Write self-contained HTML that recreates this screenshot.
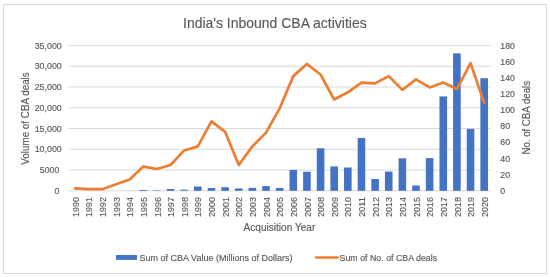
<!DOCTYPE html><html><head><meta charset="utf-8"><title>India's Inbound CBA activities</title>
<style>html,body{margin:0;padding:0;background:#fff;overflow:hidden}svg{display:block}text{font-family:"Liberation Sans", Arial, sans-serif;fill:#595959;stroke:#595959;stroke-width:0.15px}</style></head><body>
<svg width="550" height="277" viewBox="0 0 550 277">
<rect x="0" y="0" width="550" height="277" fill="#fff"/>
<rect x="3.5" y="4.5" width="543" height="269" fill="#fff" stroke="#d9d9d9" stroke-width="1"/>
<text x="274.85" y="27.6" font-size="14.2" text-anchor="middle" textLength="183.6" lengthAdjust="spacingAndGlyphs">India's Inbound CBA activities</text>
<line x1="68.30" x2="491.00" y1="45.45" y2="45.45" stroke="#d9d9d9" stroke-width="1"/>
<line x1="68.30" x2="491.00" y1="66.21" y2="66.21" stroke="#d9d9d9" stroke-width="1"/>
<line x1="68.30" x2="491.00" y1="86.98" y2="86.98" stroke="#d9d9d9" stroke-width="1"/>
<line x1="68.30" x2="491.00" y1="107.74" y2="107.74" stroke="#d9d9d9" stroke-width="1"/>
<line x1="68.30" x2="491.00" y1="128.51" y2="128.51" stroke="#d9d9d9" stroke-width="1"/>
<line x1="68.30" x2="491.00" y1="149.27" y2="149.27" stroke="#d9d9d9" stroke-width="1"/>
<line x1="68.30" x2="491.00" y1="170.04" y2="170.04" stroke="#d9d9d9" stroke-width="1"/>
<line x1="68.30" x2="491.00" y1="190.80" y2="190.80" stroke="#d9d9d9" stroke-width="1"/>
<text x="61.8" y="48.55" font-size="9.7" text-anchor="end" textLength="27.1" lengthAdjust="spacingAndGlyphs">35,000</text>
<text x="61.8" y="69.31" font-size="9.7" text-anchor="end" textLength="27.1" lengthAdjust="spacingAndGlyphs">30,000</text>
<text x="61.8" y="90.08" font-size="9.7" text-anchor="end" textLength="27.1" lengthAdjust="spacingAndGlyphs">25,000</text>
<text x="61.8" y="110.84" font-size="9.7" text-anchor="end" textLength="27.1" lengthAdjust="spacingAndGlyphs">20,000</text>
<text x="61.8" y="131.61" font-size="9.7" text-anchor="end" textLength="27.1" lengthAdjust="spacingAndGlyphs">15,000</text>
<text x="61.8" y="152.37" font-size="9.7" text-anchor="end" textLength="27.1" lengthAdjust="spacingAndGlyphs">10,000</text>
<text x="59.4" y="173.14" font-size="9.7" text-anchor="end" textLength="19.6" lengthAdjust="spacingAndGlyphs">5000</text>
<text x="59.4" y="193.90" font-size="9.7" text-anchor="end" textLength="4.9" lengthAdjust="spacingAndGlyphs">0</text>
<text x="500.3" y="48.55" font-size="9.7" textLength="14.7" lengthAdjust="spacingAndGlyphs">180</text>
<text x="500.3" y="64.70" font-size="9.7" textLength="14.7" lengthAdjust="spacingAndGlyphs">160</text>
<text x="500.3" y="80.85" font-size="9.7" textLength="14.7" lengthAdjust="spacingAndGlyphs">140</text>
<text x="500.3" y="97.00" font-size="9.7" textLength="14.7" lengthAdjust="spacingAndGlyphs">120</text>
<text x="500.3" y="113.15" font-size="9.7" textLength="14.7" lengthAdjust="spacingAndGlyphs">100</text>
<text x="500.3" y="129.30" font-size="9.7" textLength="9.8" lengthAdjust="spacingAndGlyphs">80</text>
<text x="500.3" y="145.45" font-size="9.7" textLength="9.8" lengthAdjust="spacingAndGlyphs">60</text>
<text x="500.3" y="161.60" font-size="9.7" textLength="9.8" lengthAdjust="spacingAndGlyphs">40</text>
<text x="500.3" y="177.75" font-size="9.7" textLength="9.8" lengthAdjust="spacingAndGlyphs">20</text>
<text x="500.3" y="193.90" font-size="9.7" textLength="4.9" lengthAdjust="spacingAndGlyphs">0</text>
<rect x="139.50" y="189.97" width="7.60" height="0.83" fill="#4472c4"/>
<rect x="153.13" y="190.38" width="7.60" height="0.42" fill="#4472c4"/>
<rect x="166.77" y="189.01" width="7.60" height="1.79" fill="#4472c4"/>
<rect x="180.40" y="189.72" width="7.60" height="1.08" fill="#4472c4"/>
<rect x="194.04" y="186.50" width="7.60" height="4.30" fill="#4472c4"/>
<rect x="207.67" y="188.00" width="7.60" height="2.80" fill="#4472c4"/>
<rect x="221.31" y="187.19" width="7.60" height="3.61" fill="#4472c4"/>
<rect x="234.94" y="188.39" width="7.60" height="2.41" fill="#4472c4"/>
<rect x="248.58" y="187.89" width="7.60" height="2.91" fill="#4472c4"/>
<rect x="262.21" y="186.11" width="7.60" height="4.69" fill="#4472c4"/>
<rect x="275.85" y="188.00" width="7.60" height="2.80" fill="#4472c4"/>
<rect x="289.49" y="169.91" width="7.60" height="20.89" fill="#4472c4"/>
<rect x="303.12" y="171.70" width="7.60" height="19.10" fill="#4472c4"/>
<rect x="316.76" y="148.30" width="7.60" height="42.50" fill="#4472c4"/>
<rect x="330.39" y="166.40" width="7.60" height="24.40" fill="#4472c4"/>
<rect x="344.03" y="167.50" width="7.60" height="23.30" fill="#4472c4"/>
<rect x="357.66" y="138.00" width="7.60" height="52.80" fill="#4472c4"/>
<rect x="371.30" y="179.00" width="7.60" height="11.80" fill="#4472c4"/>
<rect x="384.93" y="171.60" width="7.60" height="19.20" fill="#4472c4"/>
<rect x="398.57" y="158.30" width="7.60" height="32.50" fill="#4472c4"/>
<rect x="412.20" y="185.50" width="7.60" height="5.30" fill="#4472c4"/>
<rect x="425.84" y="158.10" width="7.60" height="32.70" fill="#4472c4"/>
<rect x="439.48" y="96.41" width="7.60" height="94.39" fill="#4472c4"/>
<rect x="453.11" y="53.30" width="7.60" height="137.50" fill="#4472c4"/>
<rect x="466.75" y="128.90" width="7.60" height="61.90" fill="#4472c4"/>
<rect x="480.38" y="78.20" width="7.60" height="112.60" fill="#4472c4"/>
<polyline points="75.12,188.38 88.75,189.19 102.39,189.19 116.02,184.34 129.66,179.50 143.30,166.58 156.93,169.00 170.57,164.96 184.20,150.43 197.84,146.39 211.47,121.36 225.11,131.85 238.74,164.96 252.38,146.39 266.01,132.66 279.65,108.44 293.29,76.13 306.92,64.02 320.56,74.52 334.19,99.55 347.83,92.28 361.46,82.59 375.10,83.40 388.73,76.13 402.37,89.86 416.00,79.36 429.64,87.44 443.28,82.59 456.91,89.06 470.55,63.21 484.18,102.78" fill="none" stroke="#ed7d31" stroke-width="2.7" stroke-linejoin="round" stroke-linecap="round"/>
<text transform="translate(78.72,217.0) rotate(-90)" font-size="9.5" textLength="19.9" lengthAdjust="spacingAndGlyphs">1990</text>
<text transform="translate(92.35,217.0) rotate(-90)" font-size="9.5" textLength="19.9" lengthAdjust="spacingAndGlyphs">1991</text>
<text transform="translate(105.99,217.0) rotate(-90)" font-size="9.5" textLength="19.9" lengthAdjust="spacingAndGlyphs">1992</text>
<text transform="translate(119.62,217.0) rotate(-90)" font-size="9.5" textLength="19.9" lengthAdjust="spacingAndGlyphs">1993</text>
<text transform="translate(133.26,217.0) rotate(-90)" font-size="9.5" textLength="19.9" lengthAdjust="spacingAndGlyphs">1994</text>
<text transform="translate(146.90,217.0) rotate(-90)" font-size="9.5" textLength="19.9" lengthAdjust="spacingAndGlyphs">1995</text>
<text transform="translate(160.53,217.0) rotate(-90)" font-size="9.5" textLength="19.9" lengthAdjust="spacingAndGlyphs">1996</text>
<text transform="translate(174.17,217.0) rotate(-90)" font-size="9.5" textLength="19.9" lengthAdjust="spacingAndGlyphs">1997</text>
<text transform="translate(187.80,217.0) rotate(-90)" font-size="9.5" textLength="19.9" lengthAdjust="spacingAndGlyphs">1998</text>
<text transform="translate(201.44,217.0) rotate(-90)" font-size="9.5" textLength="19.9" lengthAdjust="spacingAndGlyphs">1999</text>
<text transform="translate(215.07,217.0) rotate(-90)" font-size="9.5" textLength="19.9" lengthAdjust="spacingAndGlyphs">2000</text>
<text transform="translate(228.71,217.0) rotate(-90)" font-size="9.5" textLength="19.9" lengthAdjust="spacingAndGlyphs">2001</text>
<text transform="translate(242.34,217.0) rotate(-90)" font-size="9.5" textLength="19.9" lengthAdjust="spacingAndGlyphs">2002</text>
<text transform="translate(255.98,217.0) rotate(-90)" font-size="9.5" textLength="19.9" lengthAdjust="spacingAndGlyphs">2003</text>
<text transform="translate(269.61,217.0) rotate(-90)" font-size="9.5" textLength="19.9" lengthAdjust="spacingAndGlyphs">2004</text>
<text transform="translate(283.25,217.0) rotate(-90)" font-size="9.5" textLength="19.9" lengthAdjust="spacingAndGlyphs">2005</text>
<text transform="translate(296.89,217.0) rotate(-90)" font-size="9.5" textLength="19.9" lengthAdjust="spacingAndGlyphs">2006</text>
<text transform="translate(310.52,217.0) rotate(-90)" font-size="9.5" textLength="19.9" lengthAdjust="spacingAndGlyphs">2007</text>
<text transform="translate(324.16,217.0) rotate(-90)" font-size="9.5" textLength="19.9" lengthAdjust="spacingAndGlyphs">2008</text>
<text transform="translate(337.79,217.0) rotate(-90)" font-size="9.5" textLength="19.9" lengthAdjust="spacingAndGlyphs">2009</text>
<text transform="translate(351.43,217.0) rotate(-90)" font-size="9.5" textLength="19.9" lengthAdjust="spacingAndGlyphs">2010</text>
<text transform="translate(365.06,217.0) rotate(-90)" font-size="9.5" textLength="19.9" lengthAdjust="spacingAndGlyphs">2011</text>
<text transform="translate(378.70,217.0) rotate(-90)" font-size="9.5" textLength="19.9" lengthAdjust="spacingAndGlyphs">2012</text>
<text transform="translate(392.33,217.0) rotate(-90)" font-size="9.5" textLength="19.9" lengthAdjust="spacingAndGlyphs">2013</text>
<text transform="translate(405.97,217.0) rotate(-90)" font-size="9.5" textLength="19.9" lengthAdjust="spacingAndGlyphs">2014</text>
<text transform="translate(419.60,217.0) rotate(-90)" font-size="9.5" textLength="19.9" lengthAdjust="spacingAndGlyphs">2015</text>
<text transform="translate(433.24,217.0) rotate(-90)" font-size="9.5" textLength="19.9" lengthAdjust="spacingAndGlyphs">2016</text>
<text transform="translate(446.88,217.0) rotate(-90)" font-size="9.5" textLength="19.9" lengthAdjust="spacingAndGlyphs">2017</text>
<text transform="translate(460.51,217.0) rotate(-90)" font-size="9.5" textLength="19.9" lengthAdjust="spacingAndGlyphs">2018</text>
<text transform="translate(474.15,217.0) rotate(-90)" font-size="9.5" textLength="19.9" lengthAdjust="spacingAndGlyphs">2019</text>
<text transform="translate(487.78,217.0) rotate(-90)" font-size="9.5" textLength="19.9" lengthAdjust="spacingAndGlyphs">2020</text>
<text transform="translate(28.6,118.5) rotate(-90)" font-size="10" text-anchor="middle" textLength="92.4" lengthAdjust="spacingAndGlyphs">Volume of CBA deals</text>
<text transform="translate(530.0,117.8) rotate(-90)" font-size="10" text-anchor="middle" textLength="73.6" lengthAdjust="spacingAndGlyphs">No. of CBA deals</text>
<text x="279.45" y="231.1" font-size="10" text-anchor="middle" textLength="71.7" lengthAdjust="spacingAndGlyphs">Acquisition Year</text>
<rect x="116" y="255" width="21" height="4.9" fill="#4472c4"/>
<text x="139.6" y="260.6" font-size="9.3" textLength="152.9" lengthAdjust="spacingAndGlyphs">Sum of CBA Value (Millions of Dollars)</text>
<line x1="316.1" x2="337.6" y1="257.5" y2="257.5" stroke="#ed7d31" stroke-width="2.5" stroke-linecap="round"/>
<text x="339.6" y="260.6" font-size="9.3" textLength="97.5" lengthAdjust="spacingAndGlyphs">Sum of No. of CBA deals</text>
</svg></body></html>
